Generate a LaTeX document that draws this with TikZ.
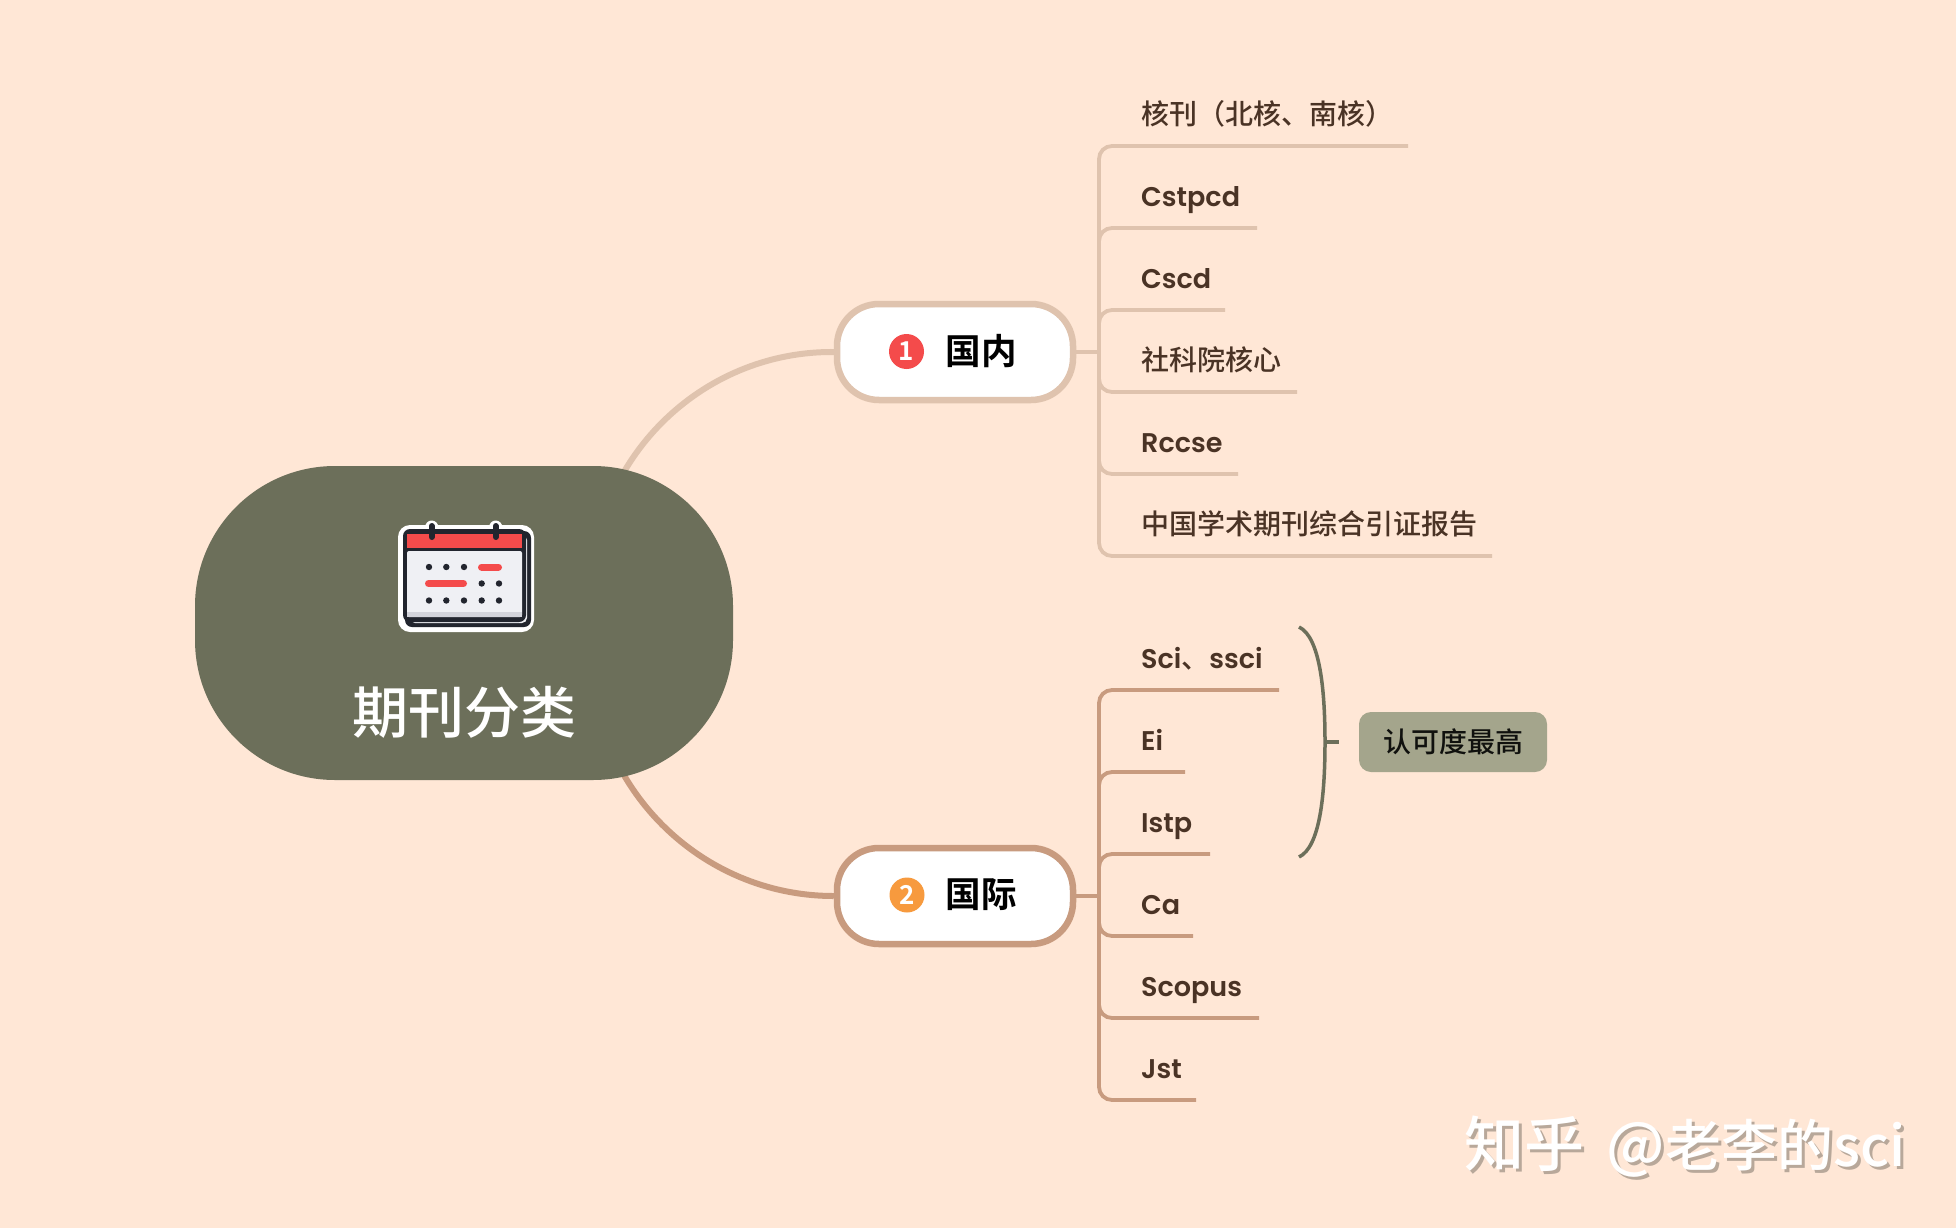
\documentclass[tikz,border=0pt]{standalone}
\usepackage{fontspec}
\usetikzlibrary{calc}
\setmainfont{Noto Sans CJK SC}
\newfontfamily\cjk{Noto Sans CJK SC}
\newfontfamily\cjkm{Noto Sans CJK SC Medium}
\newfontfamily\cjkb{Noto Sans CJK SC Bold}
\newfontfamily\lat[Scale=0.965]{Poppins SemiBold}
\newcommand{\marktext}{{\fontsize{60}{60}\selectfont 知乎}\hspace{22pt}{\fontsize{60}{60}\selectfont @}{\fontsize{56}{60}\selectfont 老李的sci}}
\definecolor{paper}{HTML}{FFE7D6}
\definecolor{olive}{HTML}{6C6F5A}
\definecolor{sage}{HTML}{A4A58C}
\definecolor{ink}{HTML}{4A3325}
\definecolor{sandy}{HTML}{DFC3AE}
\definecolor{clay}{HTML}{C89B7F}
\definecolor{redband}{HTML}{F44B4B}
\definecolor{orangeb}{HTML}{F79A3E}
\definecolor{night}{HTML}{22252E}
\definecolor{sheet}{HTML}{EFF0F4}
\definecolor{sheetdark}{HTML}{D3D4DB}
\definecolor{shadowc}{HTML}{B8A89A}

\begin{document}
\begin{tikzpicture}
      [   x=1pt,y=-1pt,
          core/.style={fill=olive,minimum width=538pt,minimum height=314pt,rounded corners=140pt},
          topic/.style={draw=#1,fill=white,line width=6.5pt,minimum width=236pt,minimum height=96pt,rounded corners=42pt},
          badge/.style={fill=#1,circle,inner sep=0pt,minimum size=35pt,text=white,font=\cjkb\fontsize{26}{26}\selectfont},
          topictext/.style={anchor=center,text=black,font=\cjkb\fontsize{35.5}{36}\selectfont},
          item/.style={anchor=base west,inner sep=0pt,text=ink,font=\fontsize{28}{30}\selectfont},
          stem/.style={draw=#1,line width=3.8pt,rounded corners=13pt},
          curve/.style={draw=#1,line width=6pt},
          mark text/.style={anchor=center,font=\cjkm},
      ]
          \fill[paper] (0,0) rectangle (1956,1228);
          \useasboundingbox (0,0) rectangle (1956,1228);
          \node[topic=sandy] (dom) at (955,352) {};
          \node[topic=clay] (int) at (955,896) {};
          % hidden starts, the core covers them
          \coordinate (core-a) at (591,594);
          \coordinate (core-b) at (591,653);
          \draw[curve=sandy] (core-a) .. controls (591,460) and (700,351) .. (dom.west);
          \draw[curve=clay] (core-b) .. controls (591,787) and (700,896) .. (int.west);

          \node[core] (core) at (464,623) {};
          \node[anchor=center,text=white,font=\cjkm\fontsize{56}{56}\selectfont] (title) at (464,712) {期刊分类};

          % calendar
          \fill[white,rounded corners=12pt] (398,525) rectangle (534,632);
          \fill[white] (431.7,527) circle (6.5) (495.7,527) circle (6.5);
          \fill[night,rounded corners=7pt] (405,531) rectangle (531,627);
          \fill[sheet,rounded corners=5pt] (410,535) rectangle (527,623);
          \fill[night,rounded corners=7pt] (403,529) rectangle (526,622);
          \fill[sheet,rounded corners=2pt] (407,551) rectangle (522,617);
          \fill[sheetdark] (407,612) rectangle (522,617);
          \fill[redband] (407,534) rectangle (522,548);
          \draw[night,line width=6pt,line cap=round] (431.7,526) -- (431.7,537) (495.7,526) -- (495.7,537);
          \foreach \x/\y in {429/567,446.3/567,464/567,
                             499/583.5,481.7/583.5,
                             429/600.5,446.3/600.5,464/600.5,481.7/600.5,499/600.5}
          {   \fill[night] (\x,\y) circle (3.2);
          }
          \draw[redband,line width=7pt,line cap=round] (481.5,567) -- (498.5,567) (428.5,583.5) -- (463.5,583.5);

          \coordinate (stem-dom) at (1099,352);
          \coordinate (stem-int) at (1099,896);
          \node[badge=redband] (badge-dom) at (906.5,351.5) {1};
          \node[badge=orangeb] (badge-int) at (907,895) {2};
          \node[topictext] (dom-text) at (981,351) {国内};
          \node[topictext] (int-text) at (981,895) {国际};
          \draw[stem=sandy] (dom.east) -- (stem-dom);
          \draw[stem=clay] (int.east) -- (stem-int);

          \foreach \i/\y/\xe/\txt in {1/146/1408/{\cjkm 核刊（北核、南核）},
                                      2/228/1257/{\lat Cstpcd},
                                      3/310/1225/{\lat Cscd},
                                      4/392/1297/{\cjkm 社科院核心},
                                      5/474/1238/{\lat Rccse},
                                      6/556/1492/{\cjkm 中国学术期刊综合引证报告}}
          {   \node[item] (dom-\i) at (1141,\y-21.5) {\txt};
              \coordinate (dom-end-\i) at (\xe,\y);
              \draw[stem=sandy] (stem-dom) |- (dom-end-\i);
          }
          \foreach \i/\y/\xe/\txt in {1/690/1279/{\lat Sci\cjkm 、\lat ssci},
                                      2/772/1185/{\lat Ei},
                                      3/854/1210/{\lat Istp},
                                      4/936/1193/{\lat Ca},
                                      5/1018/1259/{\lat Scopus},
                                      6/1100/1196/{\lat Jst}}
          {   \node[item] (int-\i) at (1141,\y-21.5) {\txt};
              \coordinate (int-end-\i) at (\xe,\y);
              \draw[stem=clay] (stem-int) |- (int-end-\i);
          }

          % brace and its note
          \node[fill=sage,rounded corners=12pt,minimum width=188pt,minimum height=60pt,inner sep=0pt,
                text=black!85!olive,font=\cjkm\fontsize{28}{30}\selectfont] (note) at (1453,742) {认可度最高};
          \coordinate (brace-top) at (1299,627);
          \coordinate (brace-mid) at (1325,742);
          \coordinate (brace-bot) at (1299,857);
          \coordinate (brace-tail) at (1339,742);
          \draw[olive,line width=3.5pt] (brace-top) .. controls (1320,637) and (1325,690) .. (brace-mid)
                .. controls (1325,795) and (1320,847) .. (brace-bot);
          \draw[olive,line width=3.5pt] (brace-mid) -- (brace-tail);

          \node[mark text,text=shadowc] (mark-shadow) at (1688,1150) {\marktext};
          \node[mark text,text=white] (mark) at (1685,1147) {\marktext};
    \end{tikzpicture}
\end{document}
